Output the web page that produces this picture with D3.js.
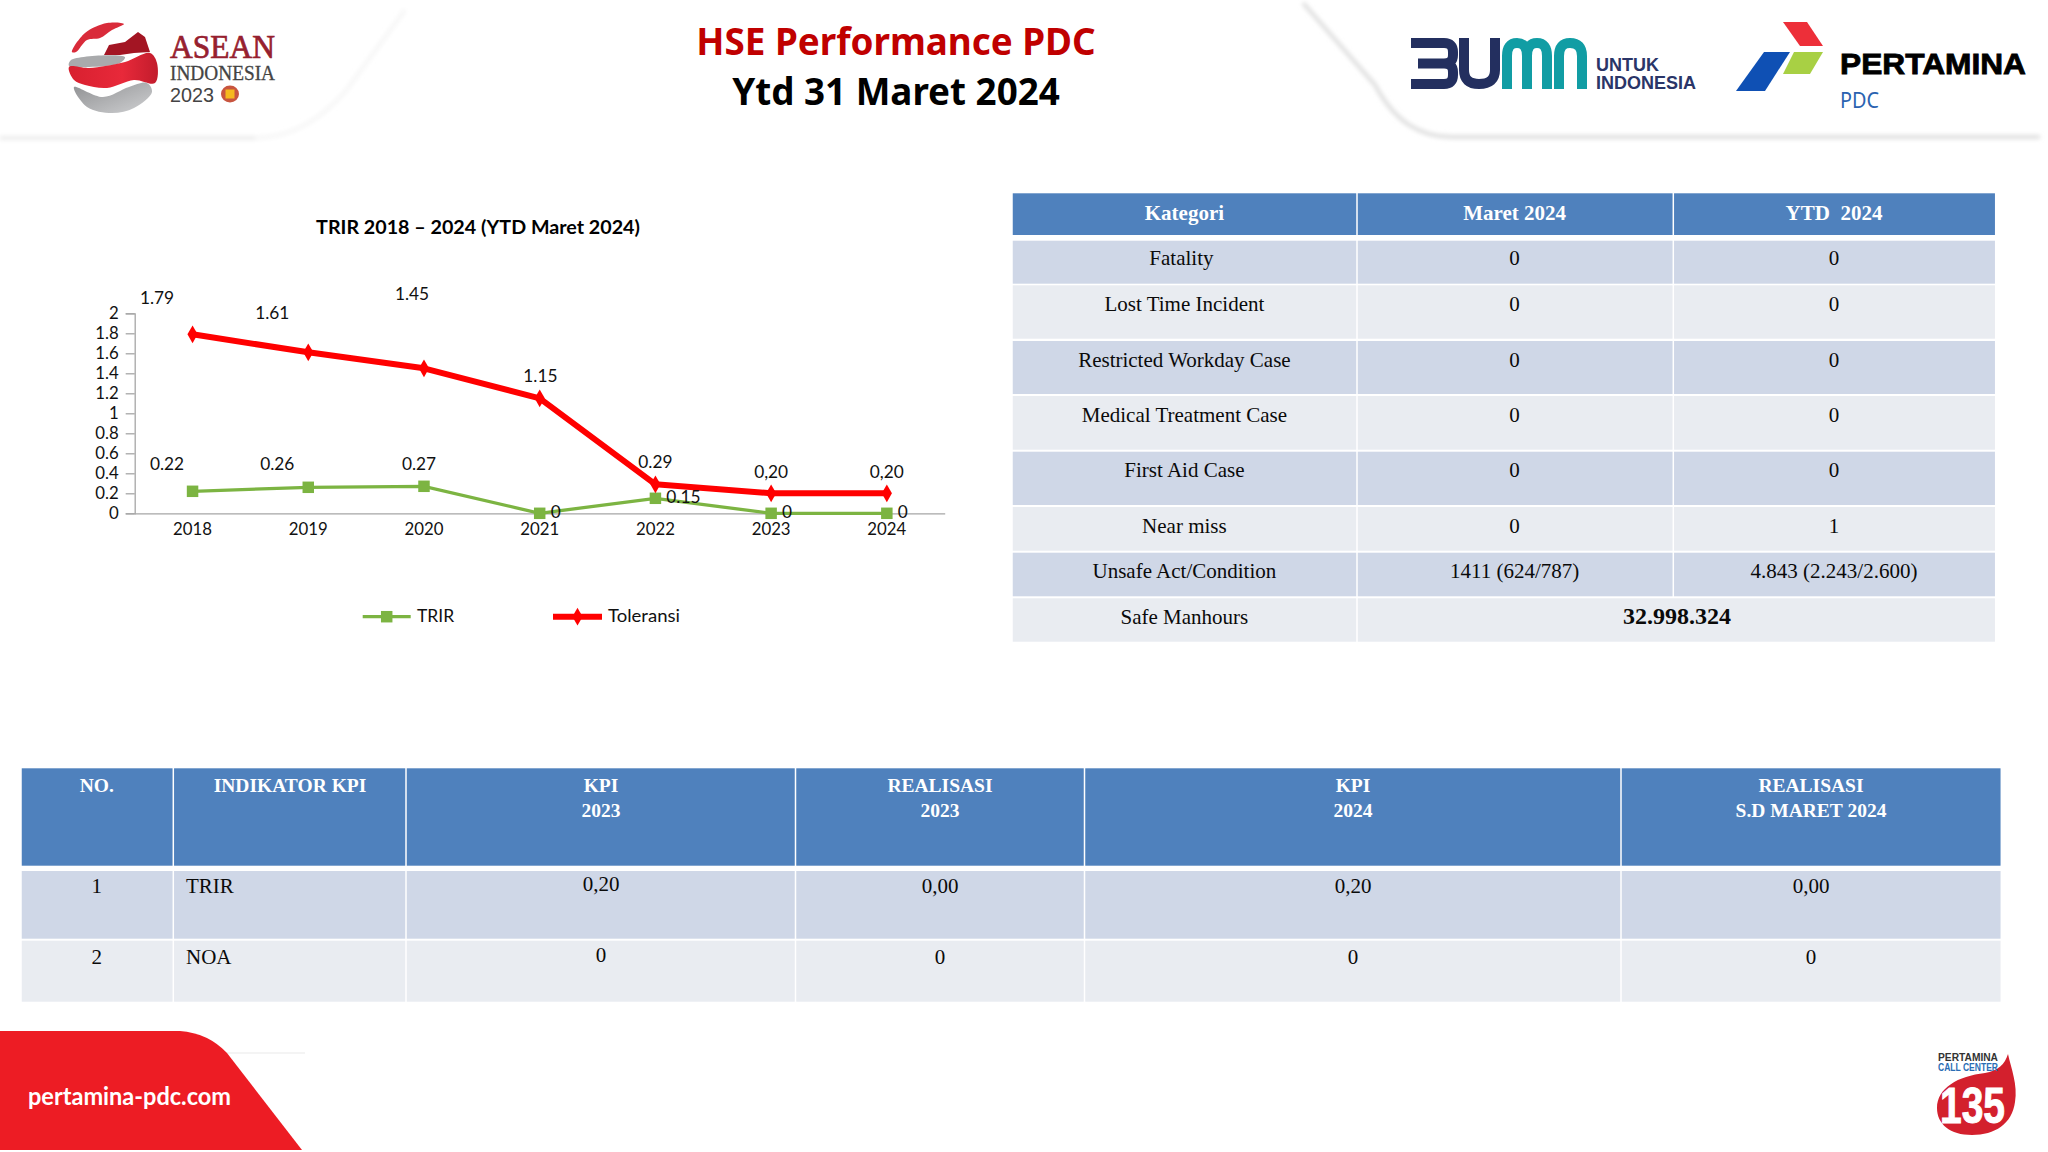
<!DOCTYPE html>
<html><head><meta charset="utf-8">
<script src="https://cdn.jsdelivr.net/npm/d3@7"></script>
<style>html,body{margin:0;padding:0;background:#fff;overflow:hidden}svg{display:block}text{white-space:pre}</style>
</head><body><svg id="c" width="2048" height="1152" xmlns="http://www.w3.org/2000/svg"></svg>
<script>
// ---------- data ----------
const years = ["2018","2019","2020","2021","2022","2023","2024"];
const trir = [0.22,0.26,0.27,0,0.15,0,0];
const toleransi = [1.79,1.61,1.45,1.15,0.29,0.20,0.20];
const trirLabels = ["0.22","0.26","0.27","0","0.15","0","0"];
const toleransiLabels = ["1.79","1.61","1.45","1.15","0.29","0,20","0,20"];
const yTicks = [0,0.2,0.4,0.6,0.8,1,1.2,1.4,1.6,1.8,2];
const hseHeader = ["Kategori","Maret 2024","YTD  2024"];
const hseKategori = ["Fatality","Lost Time Incident","Restricted Workday Case","Medical Treatment Case","First Aid Case","Near miss","Unsafe Act/Condition","Safe Manhours"];
const hseMaret = ["0","0","0","0","0","0","1411 (624/787)"];
const hseYtd = ["0","0","0","0","0","1","4.843 (2.243/2.600)"];
const safeManhours = "32.998.324";
const kpiHeader = [["NO."],["INDIKATOR KPI"],["KPI","2023"],["REALISASI","2023"],["KPI","2024"],["REALISASI","S.D MARET 2024"]];
const kpiRows = [["1","TRIR","0,20","0,00","0,20","0,00"],["2","NOA","0","0","0","0"]];

// ---------- layout ----------
const plot = {x0:134.7,x1:944.7,y0:513.3,y1:313.3};
const trirLabelOffsets = [[-25.6,-27],[-31,-23],[-5,-22],[16,-1],[28,-1],[16,-1],[16,-1]];
const tolLabelOffsets = [[-35.6,-36],[-36,-39],[-12,-74],[0.7,-22],[0,-22],[0,-21.6],[0,-21.6]];
const hseCols = [1012,1357,1673.3,1995.7], hseColC=[1184.4,1514.6,1834];
const hseHeadY=[193.3,235], hseRowY=[[240.7,283.7],[285.3,338.7],[341,394],[396,449.7],[451.7,505],[507,550.7],[552.7,596.3],[598.3,641.7]];
const hseTextY=[258,304.7,360,415,470.7,526,571.7,617];
const kpiCols=[21,173.3,406,795.5,1084.5,1621,2001.3], kpiColC=[96.8,290,601,940,1353,1811];
const kpiHeadY=[768.3,865.7], kpiRowY=[[871,938.7],[940.7,1001.7]], kpiTextY=[886.7,957.7];
const BLUE="#4f81bd",DARK="#cfd7e7",LIGHT="#e9ecf1",SERIF="'Liberation Serif',serif",LATO="Lato,sans-serif";
const GREEN="#7cb442",RED="#ff0000";

const svg=d3.select("#c");
svg.append("rect").attr("width",2048).attr("height",1152).attr("fill","#fff");
const defs=svg.append("defs");
defs.append("filter").attr("id","blur").append("feGaussianBlur").attr("stdDeviation",2.2);
const rg=defs.append("linearGradient").attr("id","redG").attr("x1",0).attr("x2",1).attr("y1",0).attr("y2",0);
rg.append("stop").attr("offset","0").attr("stop-color","#d8202f");rg.append("stop").attr("offset","0.6").attr("stop-color","#e8293a");rg.append("stop").attr("offset","1").attr("stop-color","#c21c2c");
const gg=defs.append("linearGradient").attr("id","greyG").attr("x1",0).attr("x2",1).attr("y1",0).attr("y2",1);
gg.append("stop").attr("offset","0").attr("stop-color","#8f9092");gg.append("stop").attr("offset","1").attr("stop-color","#cfd0d2");

// header band shadows
const sh=svg.append("g").attr("fill","none").attr("stroke-width",4).attr("filter","url(#blur)");
sh.append("path").attr("d","M0,138 H255").attr("stroke","#ececec");
sh.append("path").attr("d","M255,138 C290,138 320,120 345,92 L405,10").attr("stroke","#f6f6f6");
sh.append("path").attr("d","M1303,3 L1375,85 C1395,122 1420,137 1452,137 H2040").attr("stroke","#dedede");

// ---------- chart ----------
const x=d3.scaleBand().domain(years).range([plot.x0,plot.x1]);
const y=d3.scaleLinear().domain([0,2]).range([plot.y0,plot.y1]);
const cx=d=>x(d)+x.bandwidth()/2;
const ch=svg.append("g");
ch.append("text").attr("x",478).attr("y",234).attr("text-anchor","middle").attr("font-family",LATO).attr("font-weight",700).attr("font-size",19.7).attr("fill","#000").text("TRIR 2018 – 2024 (YTD Maret 2024)");

const yAxis=ch.append("g").attr("transform",`translate(${plot.x0},0)`).call(d3.axisLeft(y).tickValues(yTicks).tickSize(9).tickPadding(7).tickFormat(d=>String(d)));
const xAxis=ch.append("g").attr("transform",`translate(0,${plot.y0})`).call(d3.axisBottom(x).tickSize(0).tickPadding(9.5));
[yAxis,xAxis].forEach(a=>{a.selectAll("path").attr("stroke","#a6a6a6").attr("stroke-width",1.3);a.selectAll("line").attr("stroke","#a6a6a6").attr("stroke-width",1.3);
  a.selectAll("text").attr("font-family",LATO).attr("font-size",16.8).attr("fill","#111");a.attr("font-family",null);});

const line=d3.line().x((d,i)=>cx(years[i])).y(d=>y(d));
ch.append("path").datum(trir).attr("d",line).attr("fill","none").attr("stroke",GREEN).attr("stroke-width",3.3);
ch.append("path").datum(toleransi).attr("d",line).attr("fill","none").attr("stroke",RED).attr("stroke-width",6).attr("stroke-linejoin","round");
const sq=d3.symbol().type(d3.symbolSquare).size(132)();
const dm=d3.symbol().type(d3.symbolDiamond).size(90)();
ch.selectAll(".m1").data(trir).join("path").attr("d",sq).attr("fill",GREEN).attr("transform",(d,i)=>`translate(${cx(years[i])},${y(d)})`);
ch.selectAll(".m2").data(toleransi).join("path").attr("d",dm).attr("fill",RED).attr("transform",(d,i)=>`translate(${cx(years[i])},${y(d)})`);
const lab=(vals,texts,offs)=>ch.append("g").selectAll("text").data(vals).join("text")
  .attr("x",(d,i)=>cx(years[i])+offs[i][0]).attr("y",(d,i)=>y(d)+offs[i][1]+6).attr("text-anchor","middle")
  .attr("font-family",LATO).attr("font-size",17.3).attr("fill","#111").text((d,i)=>texts[i]);
lab(trir,trirLabels,trirLabelOffsets);
lab(toleransi,toleransiLabels,tolLabelOffsets);
// legend
const lg=ch.append("g").attr("font-family",LATO).attr("font-size",17.5).attr("fill","#111");
lg.append("line").attr("x1",362.7).attr("x2",410.7).attr("y1",616.7).attr("y2",616.7).attr("stroke",GREEN).attr("stroke-width",3.3);
lg.append("path").attr("d",sq).attr("fill",GREEN).attr("transform","translate(386.7,616.7)");
lg.append("text").attr("x",417).attr("y",622).text("TRIR");
lg.append("line").attr("x1",553).attr("x2",602).attr("y1",616.7).attr("y2",616.7).attr("stroke",RED).attr("stroke-width",6);
lg.append("path").attr("d",dm).attr("fill",RED).attr("transform","translate(577.5,616.7)");
lg.append("text").attr("x",608).attr("y",622).attr("textLength",72).attr("lengthAdjust","spacingAndGlyphs").text("Toleransi");

// ---------- tables ----------
function rect(g,x0,x1,y0,y1,f){g.append("rect").attr("x",x0+.75).attr("width",x1-x0-1.5).attr("y",y0).attr("height",y1-y0).attr("fill",f);}
function txt(g,x,y,t,o={}){return g.append("text").attr("x",x).attr("y",y).attr("text-anchor",o.a||"middle").attr("font-family",SERIF).attr("font-size",o.s||21).attr("font-weight",o.w||400).attr("fill",o.f||"#0a0a0a").text(t);}
const t1=svg.append("g");
hseHeader.forEach((h,i)=>{rect(t1,hseCols[i],hseCols[i+1],hseHeadY[0],hseHeadY[1],BLUE);txt(t1,hseColC[i],219.5,h,{w:700,f:"#fff"});});
hseKategori.forEach((k,r)=>{
  const fill=r%2?LIGHT:DARK,[a,b]=hseRowY[r];
  rect(t1,hseCols[0],hseCols[1],a,b,fill);
  txt(t1,hseColC[0]-(r===0?3:0),hseTextY[r]+6.5,k);
  if(r<hseMaret.length){
    rect(t1,hseCols[1],hseCols[2],a,b,fill);rect(t1,hseCols[2],hseCols[3],a,b,fill);
    txt(t1,hseColC[1],hseTextY[r]+6.5,hseMaret[r]);txt(t1,hseColC[2],hseTextY[r]+6.5,hseYtd[r]);
  } else {
    rect(t1,hseCols[1],hseCols[3],a,b,fill);
    txt(t1,1677,hseTextY[r]+7,safeManhours,{w:700,s:24});
  }
});
const t2=svg.append("g");
kpiHeader.forEach((h,i)=>{rect(t2,kpiCols[i],kpiCols[i+1],kpiHeadY[0],kpiHeadY[1],BLUE);
  h.forEach((l,j)=>txt(t2,kpiColC[i],792+j*24.5,l,{w:700,f:"#fff",s:19.5}));});
kpiRows.forEach((row,r)=>{const [a,b]=kpiRowY[r];
  row.forEach((v,i)=>{rect(t2,kpiCols[i],kpiCols[i+1],a,b,r?LIGHT:DARK);
    const yy=kpiTextY[r]+6.5-(i===2?2.7:0);
    if(i===1) txt(t2,186,yy,v,{a:"start"}); else txt(t2,kpiColC[i],yy,v);});
});

// ---------- header text ----------
const H="'Noto Sans',sans-serif";
svg.append("text").attr("x",896).attr("y",54.5).attr("text-anchor","middle").attr("font-family",H).attr("font-weight",700).attr("font-size",36.8).attr("fill","#c00000").text("HSE Performance PDC");
svg.append("text").attr("x",896).attr("y",105).attr("text-anchor","middle").attr("font-family",H).attr("font-weight",700).attr("font-size",36.8).attr("fill","#000").text("Ytd 31 Maret 2024");

// ---------- logos ----------
const L=svg.append("g");
const poly=(g,p,f)=>g.append("path").attr("d",d3.line().curve(d3.curveCatmullRomClosed)(p)).attr("fill",f);
const straight=(g,p,f)=>g.append("path").attr("d","M"+p.join("L")+"Z").attr("fill",f);
poly(L,[[74,87],[103,97],[129,87],[147,83],[152,92],[134,108],[112,113],[87,107]],"url(#greyG)");
poly(L,[[71,60],[125,57],[120,63],[89,67],[69,66]],"#a9aaac");
poly(L,[[69,67],[89,68],[125,62],[150,53],[157,63],[155,83],[134,80],[107,88],[85,85],[74,80]],"url(#redG)");
poly(L,[[72,52],[85,33],[107,23],[124,24],[112,30],[100,38],[87,40],[76,52]],"#d92b3a");
straight(L,[[104,55],[109,45],[125,42],[138,32],[145,37],[150,52],[134,53],[120,55]],"#a31523");
const lt=(x,y,t,o)=>L.append("text").attr("x",x).attr("y",y).attr("font-family",o.ff||SERIF).attr("font-size",o.s).attr("font-weight",o.w||400).attr("fill",o.f).attr("textLength",o.l).attr("lengthAdjust","spacingAndGlyphs").attr("stroke",o.st?o.f:"none").attr("stroke-width",o.st||0).text(t);
lt(170,58,"ASEAN",{s:33,f:"#96202f",l:105,st:.7});
lt(170,80,"INDONESIA",{s:20,f:"#444",l:105,st:.3});
lt(170,102,"2023",{s:21,f:"#444",l:44,ff:"'Liberation Sans',sans-serif"});
L.append("ellipse").attr("cx",230).attr("cy",94).attr("rx",9).attr("ry",8.5).attr("fill","#c8553f");
L.append("rect").attr("x",225.5).attr("y",89.5).attr("width",9).attr("height",9).attr("fill","#f6b91e");
// BUMN
const bn=L.append("g").attr("fill","none").attr("stroke-width",10);
bn.append("path").attr("stroke","#232f5f").attr("d","M1411,43 H1444 Q1453,43 1453,52 V55 Q1453,63.5 1444,63.5 H1418 M1444,63.5 Q1453,63.5 1453,72 V75 Q1453,84 1444,84 H1411");
bn.append("path").attr("stroke","#232f5f").attr("d","M1464,38 V70 Q1464,84 1479,84 Q1495,84 1495,70 V38");
bn.append("path").attr("stroke","#119da4").attr("d","M1507,89 V56 Q1507,43 1517,43 Q1527,43 1527,56 V89 M1527,56 Q1527,43 1537,43 Q1547,43 1547,56 V89");
bn.append("path").attr("stroke","#119da4").attr("d","M1559,89 V56 Q1559,43 1570,43 Q1582,43 1582,56 V89");
lt(1596,71,"UNTUK",{s:19,w:700,f:"#2a3568",l:63,ff:"'Liberation Sans',sans-serif"});
lt(1596,89,"INDONESIA",{s:19,w:700,f:"#2a3568",l:100,ff:"'Liberation Sans',sans-serif"});
// Pertamina
straight(L,[[1783,22],[1807,22],[1823,46],[1800,46]],"#ed2f39");
straight(L,[[1794,52],[1823,52],[1810,74],[1783,74]],"#a8d044");
straight(L,[[1764,52],[1790,52],[1765,91],[1736,91]],"#0f50b4");
lt(1840,74,"PERTAMINA",{s:29,w:700,f:"#000",l:186,st:.8,ff:"'Liberation Sans',sans-serif"});
lt(1840,108,"PDC",{s:22,f:"#2a62b0",l:39,ff:"'Noto Sans',sans-serif"});

// ---------- footer ----------
L.append("path").attr("d","M227,1053 H305").attr("stroke","#f1f1f1").attr("stroke-width",1.5);
L.append("path").attr("d","M0,1031 H180 Q208,1033 227,1053 L302,1150 H0 Z").attr("fill","#ed1c24");
lt(28,1105,"pertamina-pdc.com",{s:24,w:700,f:"#fff",l:203,ff:LATO});
L.append("path").attr("d","M2008,1054 C2011,1068 2018,1085 2015,1102 C2012,1124 1995,1135 1972,1135 C1950,1135 1937,1124 1937,1108 C1937,1088 1958,1076 1985,1073 C1998,1071 2005,1064 2008,1054Z").attr("fill","#d3202d");
lt(1938,1061,"PERTAMINA",{s:10,w:700,f:"#333",l:60,ff:"'Liberation Sans',sans-serif"});
lt(1938,1070.5,"CALL CENTER",{s:10,w:700,f:"#2a6db5",l:60,ff:"'Liberation Sans',sans-serif"});
lt(1940,1123,"135",{s:50,w:700,f:"#fff",l:65,st:1,ff:"'Liberation Sans',sans-serif"});
</script></body></html>
